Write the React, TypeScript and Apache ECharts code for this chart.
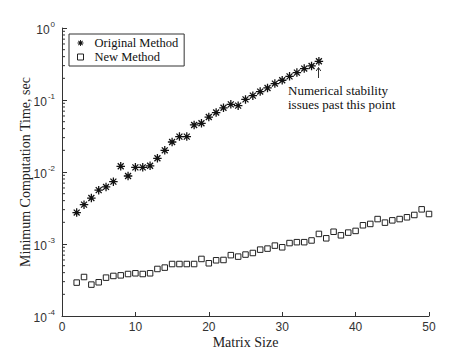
import React, { useEffect, useRef } from "react";
import * as echarts from "echarts";

// ---- data ----
const origSizes = [2, 3, 4, 5, 6, 7, 8, 9, 10, 11, 12, 13, 14, 15, 16, 17, 18, 19, 20, 21, 22, 23, 24, 25, 26, 27, 28, 29, 30, 31, 32, 33, 34, 35];
const origTimes = [
  0.00273, 0.00352, 0.00435, 0.0056, 0.0062, 0.00735, 0.012, 0.0088, 0.0116, 0.0116,
  0.0122, 0.0155, 0.020, 0.0261, 0.031, 0.031, 0.045, 0.0475, 0.058, 0.067,
  0.078, 0.087, 0.0835, 0.102, 0.115, 0.131, 0.147, 0.169, 0.188, 0.213,
  0.24, 0.273, 0.297, 0.345,
];
const newSizes = [2, 3, 4, 5, 6, 7, 8, 9, 10, 11, 12, 13, 14, 15, 16, 17, 18, 19, 20, 21, 22, 23, 24, 25, 26, 27, 28, 29, 30, 31, 32, 33, 34, 35, 36, 37, 38, 39, 40, 41, 42, 43, 44, 45, 46, 47, 48, 49, 50];
const newTimes = [
  0.000291, 0.000348, 0.000273, 0.000294, 0.000341, 0.00036, 0.000367, 0.000383, 0.000392, 0.000383,
  0.000392, 0.00045, 0.00047, 0.000527, 0.000527, 0.000527, 0.000527, 0.00062, 0.00054, 0.000594,
  0.0006, 0.0007, 0.000668, 0.000713, 0.00075, 0.000835, 0.000863, 0.00095, 0.0009, 0.00103,
  0.00106, 0.00106, 0.00112, 0.00138, 0.0012, 0.00148, 0.00132, 0.00144, 0.00152, 0.00182,
  0.0019, 0.00222, 0.00198, 0.00213, 0.00222, 0.00235, 0.00253, 0.00303, 0.00261,
];
const seriesNames = ["Original Method", "New Method"];
const xTicks = { min: 0, max: 50, interval: 10 };
const yRange = { min: 1e-4, max: 1 };
const minorDecades = [1e-4, 1e-3, 1e-2, 1e-1];
const minorMantissas = [2, 3, 4, 5, 6, 7, 8, 9];
const xTitle = "Matrix Size";
const yTitle = "Minimum Computation Time, sec";
const noteText = "Numerical stability\nissues past this point";

const STAR =
  "path://M0 8.5L20 8.5L20 11.5L0 11.5Z M8.5 0L11.5 0L11.5 20L8.5 20Z " +
  "M4.06 1.94L18.06 15.94L15.94 18.06L1.94 4.06Z M15.94 1.94L18.06 4.06L4.06 18.06L1.94 15.94Z";
const SQUARE = "path://M0 0L10 0L10 10L0 10Z";

const SERIF = "'Liberation Serif', 'Times New Roman', serif";
const SANS = "'Liberation Sans', Arial, sans-serif";

export default function App() {
  const ref = useRef<HTMLDivElement>(null);
  useEffect(() => {
    if (!ref.current) return;
    const chart = echarts.init(ref.current, undefined, { renderer: "svg" });
    const minorTicks: number[][] = [];
    minorDecades.forEach((d) => minorMantissas.forEach((m) => minorTicks.push([0, d * m])));

    chart.setOption({
      animation: false,
      backgroundColor: "#fff",
      grid: { left: 62, right: 45, top: 28, bottom: 39, containLabel: false },
      xAxis: {
        type: "value",
        min: xTicks.min,
        max: xTicks.max,
        interval: xTicks.interval,
        name: xTitle,
        nameLocation: "middle",
        nameGap: 19,
        nameMoveOverlap: false,
        nameTextStyle: { fontFamily: SERIF, fontSize: 14, color: "#222" },
        axisLine: { show: true, lineStyle: { color: "#333", width: 1 } },
        axisTick: { show: true, inside: true, length: 4, lineStyle: { color: "#333" } },
        axisLabel: { fontFamily: SANS, fontSize: 12, color: "#333", margin: 5 },
        splitLine: { show: false },
      },
      yAxis: {
        type: "log",
        logBase: 10,
        min: yRange.min,
        max: yRange.max,
        name: yTitle,
        nameLocation: "middle",
        nameGap: 30,
        nameMoveOverlap: false,
        nameTextStyle: { fontFamily: SERIF, fontSize: 14, color: "#222" },
        axisLine: { show: true, lineStyle: { color: "#333", width: 1 } },
        axisTick: { show: true, inside: true, length: 5, lineStyle: { color: "#333" } },
        splitLine: { show: false },
        axisLabel: {
          margin: 7,
          formatter: (v: number) => `{b|10}{s|${Math.round(Math.log10(v))}}`,
          rich: {
            b: { fontFamily: SANS, fontSize: 12, color: "#333", lineHeight: 16, verticalAlign: "bottom" },
            s: { fontFamily: SANS, fontSize: 8, color: "#333", lineHeight: 10, verticalAlign: "top", padding: [0, 0, 2, 1] },
          },
        },
      },
      legend: {
        data: [
          { name: seriesNames[0], icon: STAR },
          { name: seriesNames[1], icon: SQUARE, itemStyle: { color: "#fff", borderColor: "#222", borderWidth: 1 } },
        ],
        orient: "vertical",
        left: 69,
        top: 34,
        itemWidth: 18,
        itemHeight: 6,
        itemGap: 0,
        padding: [2, 6, 2, 8],
        borderColor: "#333",
        borderWidth: 1,
        backgroundColor: "#fff",
        symbolKeepAspect: true,
        textStyle: { fontFamily: SERIF, fontSize: 12.5, color: "#111", lineHeight: 14 },
        selectedMode: false,
      },
      series: [
        {
          name: seriesNames[0],
          type: "scatter",
          data: origSizes.map((x, i) => [x, origTimes[i]]),
          symbol: STAR,
          symbolSize: 8.5,
          itemStyle: { color: "#111", opacity: 1 },
          z: 3,
        },
        {
          name: seriesNames[1],
          type: "scatter",
          data: newSizes.map((x, i) => [x, newTimes[i]]),
          symbol: "rect",
          symbolSize: 5.5,
          itemStyle: { color: "#fff", borderColor: "#222", borderWidth: 1, opacity: 1 },
          z: 3,
        },
        {
          name: "minorTicks",
          type: "custom",
          silent: true,
          clip: false,
          data: minorTicks,
          renderItem: (_p: any, api: any) => {
            const pt = api.coord([api.value(0), api.value(1)]);
            return {
              type: "line",
              shape: { x1: pt[0], y1: pt[1], x2: pt[0] + 3, y2: pt[1] },
              style: { stroke: "#333", lineWidth: 1 },
            };
          },
          z: 2,
        },
      ],
      graphic: [
        {
          type: "line",
          shape: { x1: 318.5, y1: 67.5, x2: 318.5, y2: 78 },
          style: { stroke: "#333", lineWidth: 1 },
        },
        {
          type: "polyline",
          shape: { points: [[316.2, 71], [318.5, 67.5], [320.8, 71]] },
          style: { stroke: "#333", lineWidth: 1, fill: "none" },
        },
        {
          type: "text",
          x: 288,
          y: 83,
          style: {
            text: noteText,
            fontFamily: SERIF,
            fontSize: 13,
            lineHeight: 14,
            fill: "#111",
            verticalAlign: "top",
            align: "left",
          },
        },
      ],
    });
    return () => chart.dispose();
  }, []);
  return (
    <div
      ref={ref}
      style={{ position: "fixed", left: 0, top: 0, width: 474, height: 355, background: "#fff" }}
    />
  );
}
